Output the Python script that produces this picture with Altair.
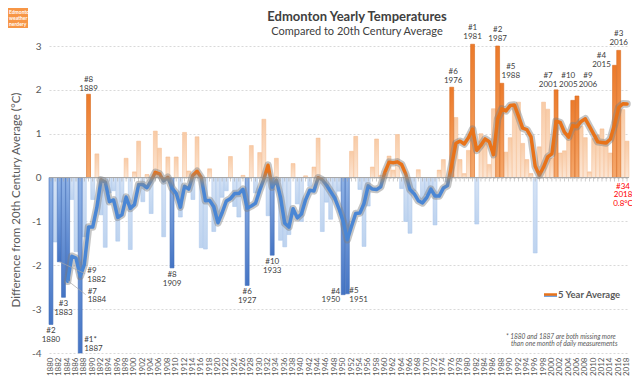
import altair as alt
import pandas as pd

years = list(range(1880, 2019))
anomaly = [
    -3.35, -1.47, -1.92, -2.73, -2.35, -0.50, -1.69, -4.00, -1.35, 1.90,   # 1880s
    -0.50, 0.54, -0.85, -1.59, -0.35, -0.30, -1.45, -0.56, 0.44, -1.64,    # 1890s
    0.13, 0.83, -0.55, 0.07, -0.82, 1.06, 0.67, -1.35, 0.47, -2.06,        # 1900s
    0.47, -0.90, 1.03, 0.15, -0.50, 0.93, -1.60, -1.63, 0.20, -1.23,       # 1910s
    -0.90, -0.45, -0.30, 0.48, -0.66, -0.90, 0.05, -2.46, 0.73, -0.35,     # 1920s
    0.57, 1.33, -0.87, -1.77, 0.44, -1.43, -1.58, -1.30, 0.32, -0.60,      # 1930s
    -1.00, 0.04, -0.20, 0.24, 0.90, -1.23, -0.56, -0.95, -0.51, -0.31,     # 1940s
    -2.67, -2.65, 0.60, 0.94, -0.27, -1.57, -0.65, 0.24, 0.88, 0.05,       # 1950s
    0.10, 0.49, 0.17, 0.98, -0.25, -1.00, -1.27, -0.30, 0.18, -0.50,       # 1960s
    -0.40, -0.30, -1.08, 0.17, 0.41, -0.10, 2.06, 1.37, 0.41, 0.09,        # 1970s
    0.62, 3.04, -1.06, 1.00, 0.81, 0.30, 1.57, 3.00, 2.15, 0.58,           # 1980s
    0.91, 1.64, 1.72, 0.78, 0.41, 0.09, -1.72, 0.70, 1.72, 1.56,           # 1990s
    0.44, 2.00, 0.56, 0.61, 1.00, 1.76, 1.86, 1.17, 0.91, 0.13,            # 2000s
    0.89, 0.97, 1.11, 0.85, 0.56, 2.56, 2.90, 1.55, 0.83,                  # 2010s
]
warm_years = [1981, 1987, 2016, 2015, 1988, 1976, 2001, 1889, 2006, 2005]
warm_tags = ["#1", "#2", "#3", "#4", "#5", "#6", "#7", "#8", "#9", "#10"]
cold_years = [1887, 1880, 1883, 1950, 1951, 1927, 1884, 1909, 1882, 1933]
cold_tags = ["#1*", "#2", "#3", "#4", "#5", "#6", "#7", "#8", "#9", "#10"]
tick_years = [y for y in years if y % 2 == 0]
y_ticks = [-4, -3, -2, -1, 0, 1, 2, 3]

GREY = "#595959"
ORANGE = "#E8731A"
BLUE = "#4A86D4"
FONT = "Lato"
LH = 8.8  # label line height

df = pd.DataFrame({"year": years, "value": anomaly})
df["avg5"] = df["value"].rolling(5).mean()
df["top"] = df["year"].isin(warm_years + cold_years)
val = dict(zip(years, anomaly))

xscale = alt.Scale(domain=years, paddingInner=0.06, paddingOuter=0)
xaxis = alt.Axis(values=tick_years, labelAngle=-90, labelFontSize=8, labelColor=GREY,
                 labelFont=FONT, labelPadding=4, domain=False, ticks=False, grid=False,
                 title=None)
yscale = alt.Scale(domain=[-4, 3], nice=False, zero=False)
yaxis = alt.Axis(values=y_ticks, labelExpr="'' + datum.value", labelFontSize=10, labelColor=GREY,
                 labelFont=FONT, labelPadding=8, domain=False, ticks=False, grid=True,
                 gridColor="#D9D9D9", gridDash=[2, 2],
                 title="Difference from 20th Century Average (°C)", titleFont=FONT,
                 titleFontSize=11.5, titleFontWeight="normal", titleColor=GREY, titlePadding=10)

X = alt.X("year:O", scale=xscale, axis=xaxis)


def Y(field):
    return alt.Y(field, type="quantitative", scale=yscale, axis=yaxis)


def grad(c1, c2):
    return alt.LinearGradient(gradient="linear",
                              stops=[alt.GradientStop(color=c1, offset=0),
                                     alt.GradientStop(color=c2, offset=1)],
                              x1=0, x2=0, y1=0, y2=1)


base = alt.Chart(df)
light_warm = base.transform_filter("datum.value >= 0 && !datum.top").mark_bar(
    fill=grad("#F8CBA6", "#FCE6D4"), stroke="#F4BB8E", strokeWidth=0.5
).encode(x=X, y=Y("value"), y2=alt.datum(0))
light_cold = base.transform_filter("datum.value < 0 && !datum.top").mark_bar(
    fill=grad("#D6E3F5", "#BDD3EF"), stroke="#A9C4EA", strokeWidth=0.5
).encode(x=X, y=Y("value"), y2=alt.datum(0))
dark_warm = base.transform_filter("datum.value >= 0 && datum.top").mark_bar(
    fill=grad("#EC7A2A", "#F5A86C"), stroke="#D86A1E", strokeWidth=0.6
).encode(x=X, y=Y("value"), y2=alt.datum(0))
dark_cold = base.transform_filter("datum.value < 0 && datum.top").mark_bar(
    fill=grad("#8FB2E6", "#4474C4"), stroke="#3F6DB8", strokeWidth=0.6
).encode(x=X, y=Y("value"), y2=alt.datum(0))

zero_rule = alt.Chart(pd.DataFrame({"z": [0]})).mark_rule(color="#A6A6A6", strokeWidth=1).encode(
    y=alt.datum(0))
ticks = base.mark_tick(orient="vertical", size=4, thickness=0.8, color="#A6A6A6", yOffset=2).encode(
    x=X, y=alt.datum(0))

line_df = df.dropna(subset=["avg5"])
vmax, vmin = float(line_df["avg5"].max()), float(line_df["avg5"].min())
t = vmax / (vmax - vmin)
line_grad = alt.LinearGradient(
    gradient="linear",
    stops=[alt.GradientStop(color=ORANGE, offset=0),
           alt.GradientStop(color=ORANGE, offset=max(0.0, t - 0.035)),
           alt.GradientStop(color="#8C8C8C", offset=t + 0.01),
           alt.GradientStop(color=BLUE, offset=min(1.0, t + 0.06)),
           alt.GradientStop(color=BLUE, offset=1)],
    x1=0, x2=0, y1=0, y2=1)
glow = alt.Chart(line_df).mark_line(color="#7F7F7F", strokeWidth=7.5, opacity=0.45,
                                    strokeJoin="round", strokeCap="round").encode(x=X, y=Y("avg5"))
avg_line = alt.Chart(line_df).mark_line(stroke=line_grad, strokeWidth=3.5,
                                        strokeJoin="round", strokeCap="round").encode(x=X, y=Y("avg5"))

warm_lab = pd.DataFrame({"year": warm_years, "value": [val[y] for y in warm_years],
                         "label": [f"{t_}\n{y}" for t_, y in zip(warm_tags, warm_years)]})
cold_lab = pd.DataFrame({"year": cold_years, "value": [val[y] for y in cold_years],
                         "label": [f"{t_}\n{y}" for t_, y in zip(cold_tags, cold_years)]})
txt = dict(lineBreak="\n", fontSize=8, lineHeight=LH, color="#404040", font=FONT)


def lab(frame, year, **kw):
    return alt.Chart(frame[frame["year"] == year]).mark_text(**txt, **kw).encode(
        x=X, y=Y("value"), text="label:N")


# label nudges (style only): (dx, extra dy)
warm_nudge = {1981: (0, -1), 1987: (0, -1), 2016: (0, -1.5), 2015: (-13, 5.5), 1988: (9, -1),
              1976: (1.5, -0.5), 2001: (-8, 1), 1889: (0, 1), 2006: (11, -5.3), 2005: (-4.5, -9.7)}
warm_layers = [lab(warm_lab, y, baseline="bottom", dx=warm_nudge[y][0],
                   dy=-2 - LH + warm_nudge[y][1]) for y in warm_years]

special = [1882, 1884, 1887, 1950, 1951]
cold_default = alt.Chart(cold_lab[~cold_lab["year"].isin(special)]).mark_text(
    baseline="top", dy=3, **txt).encode(x=X, y=Y("value"), text="label:N")
cold_layers = [
    lab(cold_lab, 1882, align="left", baseline="top", dx=28, dy=5),
    lab(cold_lab, 1884, align="left", baseline="top", dx=20, dy=7),
    lab(cold_lab, 1887, align="left", baseline="bottom", dx=4, dy=-LH),
    lab(cold_lab, 1950, align="right", baseline="top", dx=-3, dy=-7),
    lab(cold_lab, 1951, align="left", baseline="top", dx=2, dy=-7),
]

lead1882 = alt.Chart(cold_lab[cold_lab["year"] == 1882]).mark_rule(
    color="#A6A6A6", strokeWidth=0.7, x2Offset=26, y2Offset=12).encode(
    x=X, x2=alt.X2("year:O"), y=Y("value"), y2=alt.Y2("value:Q"))
lead1884 = alt.Chart(cold_lab[cold_lab["year"] == 1884]).mark_rule(
    color="#A6A6A6", strokeWidth=0.7, x2Offset=18, y2Offset=14).encode(
    x=X, x2=alt.X2("year:O"), y=Y("value"), y2=alt.Y2("value:Q"))

last_lab = pd.DataFrame({"year": [2018], "label": ["#34\n2018\n0.8°C"]})
last_text = alt.Chart(last_lab).mark_text(color="#FF0000", baseline="top", lineBreak="\n",
                                          fontSize=8, lineHeight=8.5, dx=-4, dy=5, font=FONT).encode(
    x=X, y=alt.datum(0), text="label:N")


def note(text, x, y, **kw):
    return alt.Chart(pd.DataFrame({"t": [text]})).mark_text(font=FONT, **kw).encode(
        x=alt.value(x), y=alt.value(y), text="t:N")


title = note("Edmonton Yearly Temperatures", 308, -25, fontSize=13, fontWeight="bold",
             color="#404040", align="center", baseline="alphabetic")
subtitle = note("Compared to 20th Century Average", 308, -11, fontSize=11, color="#404040",
                align="center", baseline="alphabetic")
legend_blue = alt.Chart(pd.DataFrame({"a": [0]})).mark_rule(color=BLUE, strokeWidth=1.5).encode(
    x=alt.value(495), x2=alt.value(508), y=alt.value(250))
legend_or = alt.Chart(pd.DataFrame({"a": [0]})).mark_rule(color=ORANGE, strokeWidth=2.5).encode(
    x=alt.value(495), x2=alt.value(508), y=alt.value(248.5))
legend_txt = note("5 Year Average", 509, 249, fontSize=9.5, fontWeight="bold", color=GREY,
                  align="left", baseline="middle")
foot1 = note("* 1880 and 1887 are both missing more", 457, 291, fontSize=6.6, fontStyle="italic",
             color=GREY, align="left", baseline="middle")
foot2 = note("than one month of daily measurements", 462, 298, fontSize=6.6, fontStyle="italic",
             color=GREY, align="left", baseline="middle")
logo = alt.Chart(pd.DataFrame({"a": [0]})).mark_rect(color="#F79646").encode(
    x=alt.value(-41), x2=alt.value(-21), y=alt.value(-38), y2=alt.value(-18))
logo_t = [note(s, -40, yy, fontSize=5, fontWeight="bold", color="white", align="left",
               baseline="middle") for s, yy in [("Edmonton", -34), ("weather", -28), ("nerdery", -22)]]

chart = alt.layer(
    light_warm, light_cold, dark_warm, dark_cold, zero_rule, ticks, glow, avg_line,
    *warm_layers, cold_default, *cold_layers, lead1882, lead1884,
    last_text, title, subtitle, legend_blue, legend_or, legend_txt, foot1, foot2, logo, *logo_t
).properties(
    width=580, height=307,
    padding={"left": 41, "top": 38, "right": 3, "bottom": 28},
    autosize=alt.AutoSizeParams(type="none"),
).configure(font=FONT).configure_view(stroke=None)

chart.save("out.html", embed_options={"renderer": "svg", "actions": False})
